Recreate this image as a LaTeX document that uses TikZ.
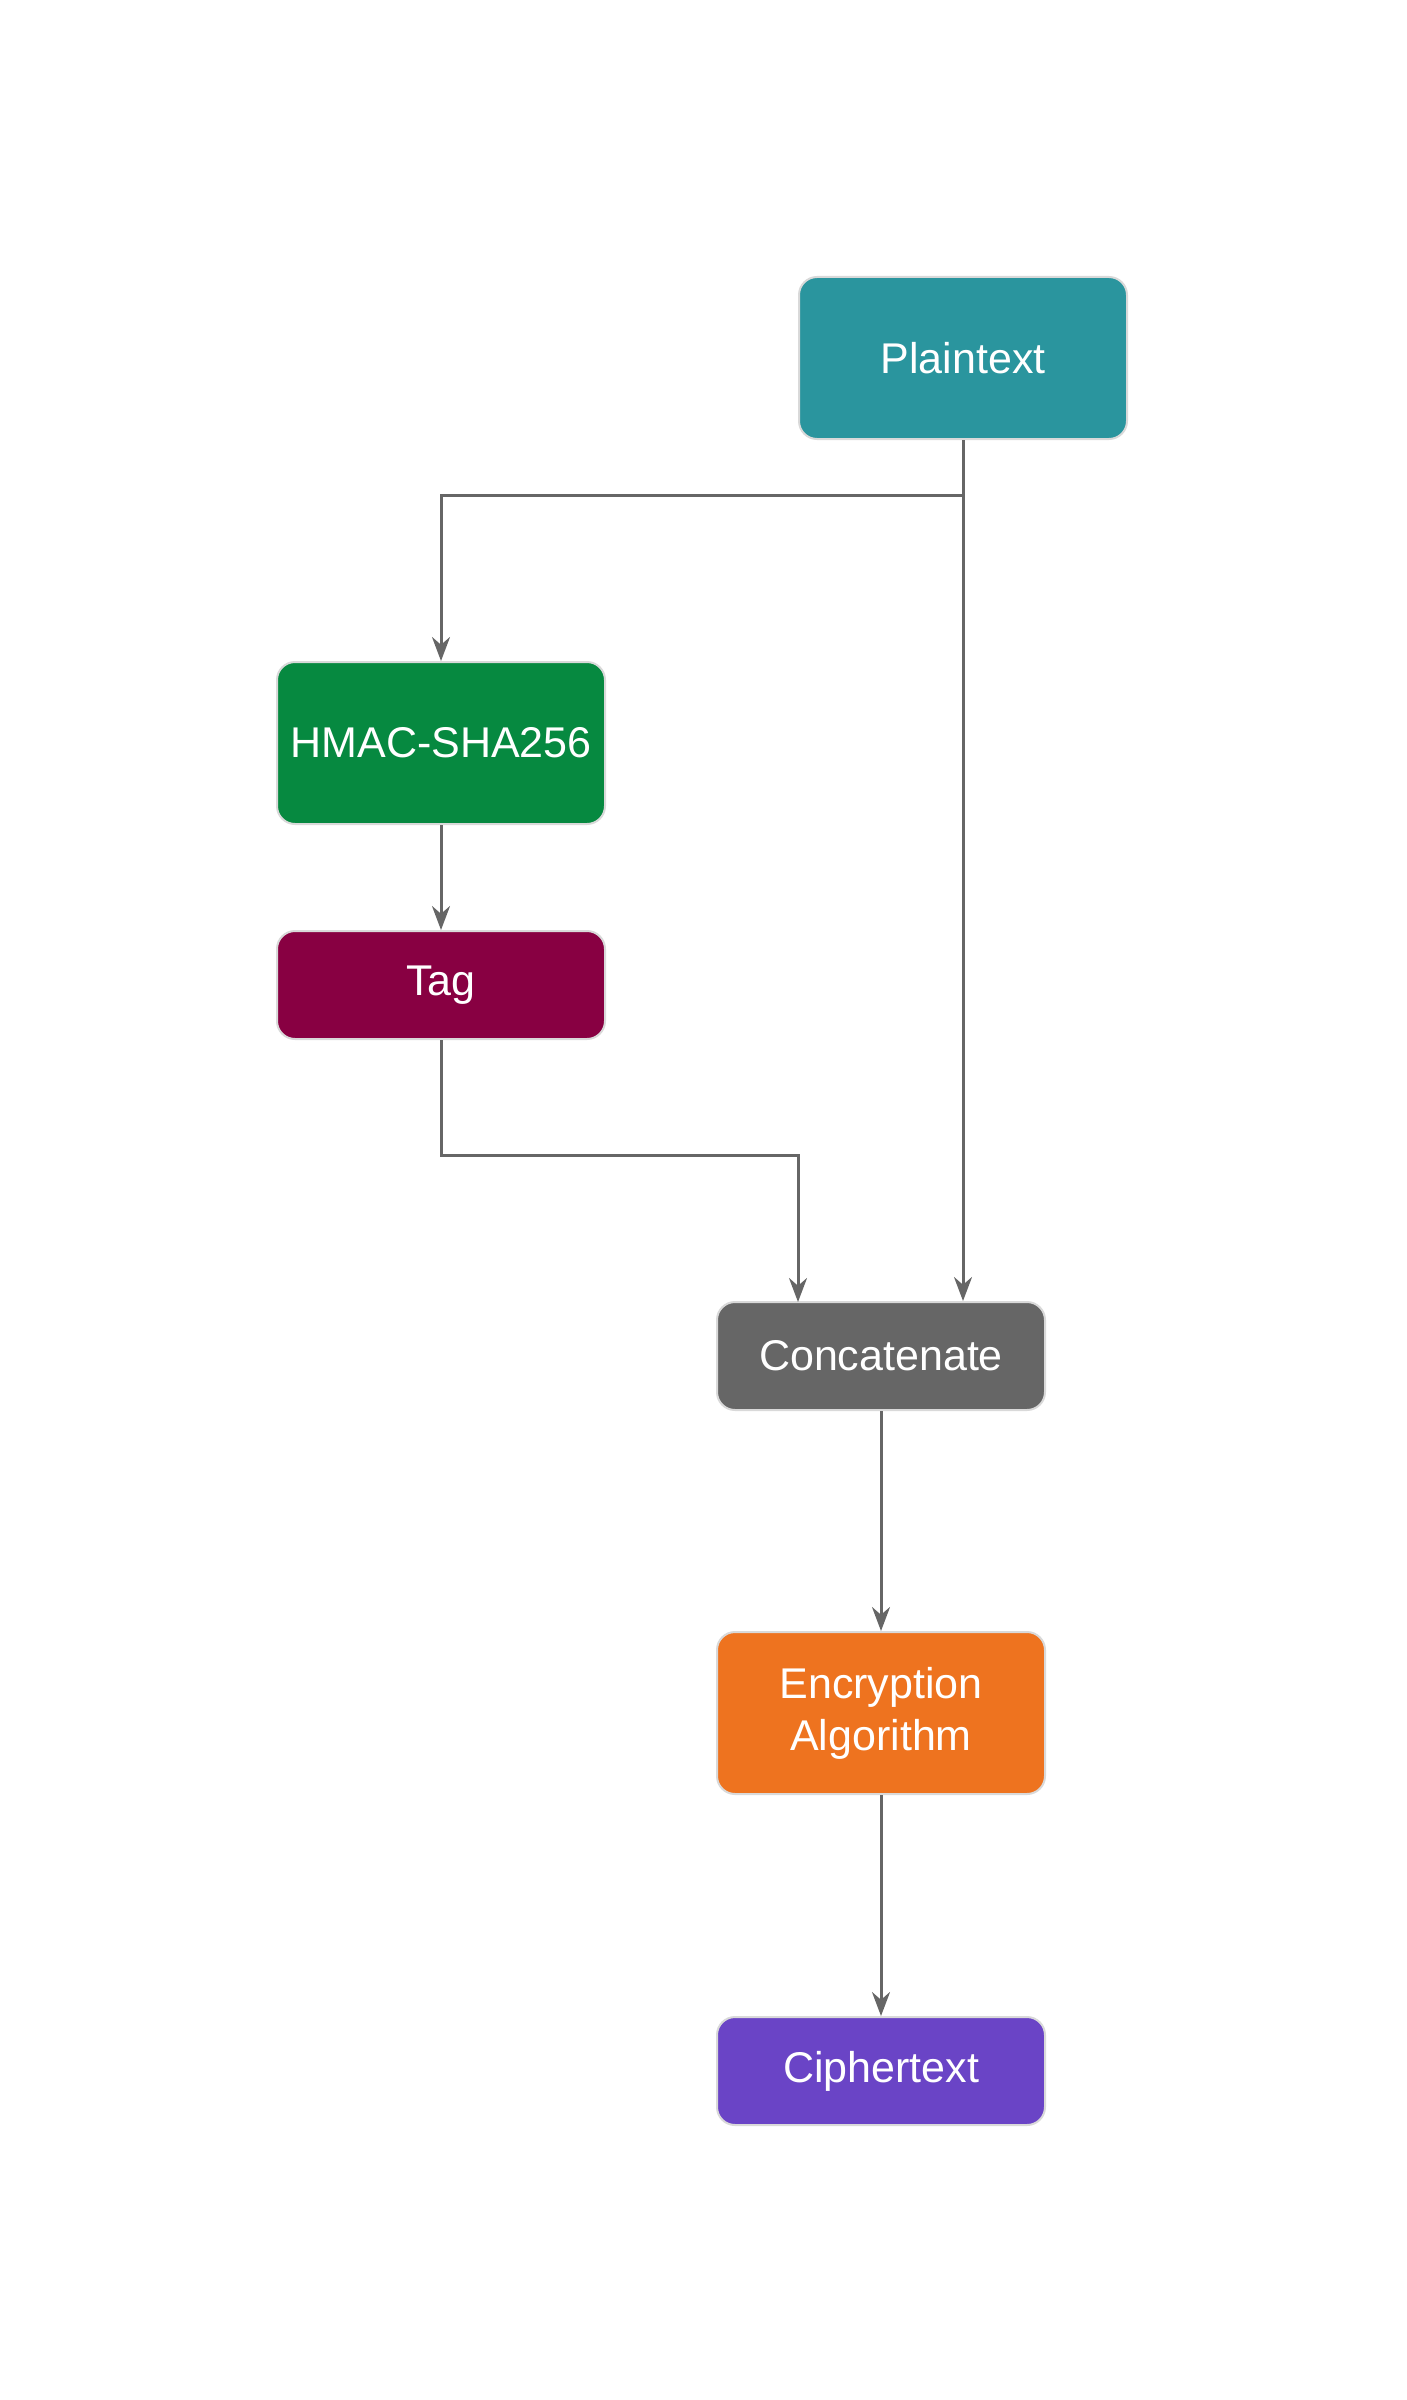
\documentclass[tikz,border=0pt]{standalone}
\usepackage{fontspec}
\setmainfont{Liberation Sans}
\usetikzlibrary{arrows.meta}
\definecolor{cplain}{HTML}{2A959E}
\definecolor{chmac}{HTML}{068940}
\definecolor{ctag}{HTML}{880042}
\definecolor{ccat}{HTML}{666666}
\definecolor{cenc}{HTML}{EE731F}
\definecolor{ccip}{HTML}{6A44C6}
\begin{document}
\begin{tikzpicture}[x=1pt,y=-1pt,
  box/.style={draw=white!85!black,line width=2pt,rounded corners=18pt,minimum width=328pt,text=white,font=\fontsize{43}{52}\selectfont,align=center,inner sep=0pt},
  arr/.style={draw=ccat,line width=3pt,-{Stealth[length=24pt,width=18pt]}}]
\useasboundingbox (0,0) rectangle (1406,2400);
\node[box,fill=cplain,minimum height=162pt] (p) at (963,358) {Plaintext};
\node[box,fill=chmac,minimum height=162pt] (h) at (441,743) {HMAC-SHA256};
\node[box,fill=ctag,minimum height=108pt] (t) at (441,985) {Tag};
\node[box,fill=ccat,minimum height=108pt] (c) at (881,1356) {Concatenate};
\node[box,fill=cenc,minimum height=162pt] (e) at (881,1713) {Encryption\\Algorithm};
\node[box,fill=ccip,minimum height=108pt] (f) at (881,2071) {Ciphertext};
\coordinate (b) at (963,495);
\draw[arr] (p.south) -- (c.north -| p.south);
\draw[arr] (b) -| (h.north);
\draw[arr] (h) -- (t);
\draw[arr] (t.south) |- (798,1155) -- (798,1302);
\draw[arr] (c) -- (e);
\draw[arr] (e) -- (f);
\end{tikzpicture}
\end{document}
